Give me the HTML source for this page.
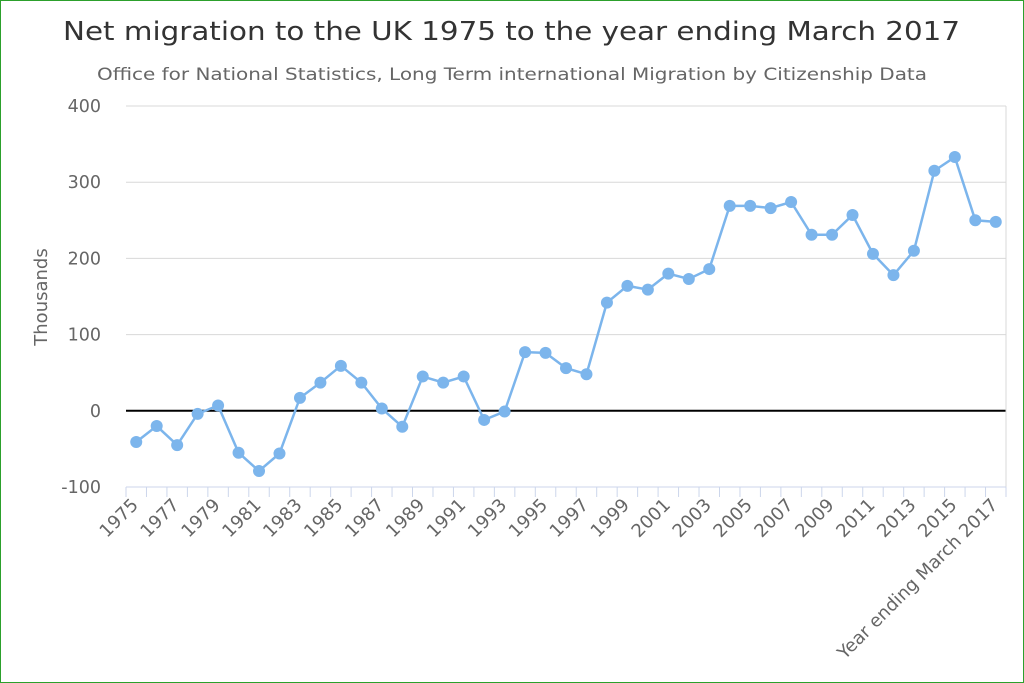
<!DOCTYPE html>
<html><head><meta charset="utf-8"><style>
body{margin:0;background:#fff;}
svg{display:block;font-family:"DejaVu Sans","Liberation Sans",sans-serif;}
</style></head><body>
<svg id="chart" width="1024" height="683">
<rect x="0.5" y="0.5" width="1023" height="682" fill="#fff" stroke="#2ca02c" stroke-width="1"/>
<text x="63" y="40" textLength="897" lengthAdjust="spacingAndGlyphs" font-size="26" fill="#333">Net migration to the UK 1975 to the year ending March 2017</text>
<text x="97" y="80" textLength="830" lengthAdjust="spacingAndGlyphs" font-size="17" fill="#666">Office for National Statistics, Long Term international Migration by Citizenship Data</text>
<text transform="translate(47,297) rotate(-90)" text-anchor="middle" font-size="18" fill="#666">Thousands</text>
<g id="grid"></g><g id="axes"></g><g id="series"></g>
</svg>
<script>
const categories=[];for(let y=1975;y<=2016;y++)categories.push(String(y));categories.push("Year ending March 2017");
const values=[-41,-20,-45,-4,7,-55,-79,-56,17,37,59,37,3,-21,45,37,45,-12,-1,77,76,56,48,142,164,159,180,173,186,269,269,266,274,231,231,257,206,178,210,315,333,250,248];
const yTicks=[-100,0,100,200,300,400];
const NS="http://www.w3.org/2000/svg";
const L=126,R=1006,T=106,B=487,yMin=-100,yMax=400;
const bw=(R-L)/categories.length;
function xs(i){return L+bw*(i+0.5);}
function ys(v){return B-(v-yMin)/(yMax-yMin)*(B-T);}
function mk(tag,a,p){const e=document.createElementNS(NS,tag);for(const k in a)e.setAttribute(k,a[k]);p.appendChild(e);return e;}
const grid=document.getElementById('grid'),axes=document.getElementById('axes'),ser=document.getElementById('series');
yTicks.forEach(t=>{
 const g=mk('line',{x1:L,x2:R,y1:ys(t),y2:ys(t),stroke:t===0?'#000':'#d8d8d8','stroke-width':t===0?2:1},grid);
 
 
 const tx=mk('text',{x:101,y:ys(t)+6,'text-anchor':'end','font-size':17.5,fill:'#666'},axes);
 tx.textContent=String(t);
 
 
});
const rl=mk('line',{x1:R,x2:R,y1:T,y2:B,stroke:'#d8d8d8'},grid);


const ax=mk('line',{x1:L,x2:R,y1:B,y2:B,stroke:'#ccd6eb'},axes);


for(let i=0;i<=categories.length;i++){
 const tk=mk('line',{x1:L+bw*i,x2:L+bw*i,y1:B,y2:B+10,stroke:'#ccd6eb'},axes);
 
 
}
categories.forEach((c,i)=>{
 if(i%2!==0&&i!==categories.length-1)return;
 const x=xs(i)+3,y=B+19;
 const tx=mk('text',{x:x,y:y,'text-anchor':'end','font-size':18,fill:'#666',transform:`rotate(-45 ${x} ${y})`},axes);
 tx.textContent=c;
 
 
});
const pl=mk('polyline',{points:values.map((v,i)=>xs(i)+','+ys(v)).join(' '),fill:'none',stroke:'#7cb5ec','stroke-width':2.5},ser);


values.forEach((v,i)=>{
 const c=mk('circle',{cx:xs(i),cy:ys(v),r:6,fill:'#7cb5ec'},ser);
 
 
});
</script>
</body></html>
